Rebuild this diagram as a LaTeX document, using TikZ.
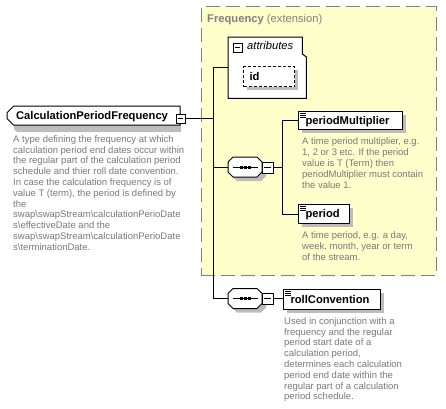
\documentclass[tikz,border=0pt]{standalone}
\usepackage{fontspec}
\setmainfont{Liberation Sans}
\usetikzlibrary{shapes.misc}
\definecolor{frameyellow}{HTML}{FFFFCC}
\definecolor{txtgray}{HTML}{787878}
\definecolor{framegray}{HTML}{808080}
\definecolor{shgray}{HTML}{BDBDBD}
\tikzset{
  conn/.style={draw=black, line width=1pt},
  shadowfill/.style={fill=shgray, draw=none},
  namefont/.style={font=\fontsize{11.2}{13}\selectfont\bfseries},
  elembox/.style={rectangle, draw=black, line width=1pt, fill=white, namefont, align=left,
    inner ysep=0pt, inner xsep=7pt, text height=9.5pt, text depth=2.5pt, anchor=north west},
  descr/.style={font=\fontsize{9.5}{10.8}\selectfont, text=txtgray, align=left, inner sep=0pt, anchor=north west},
  minusbox/.style={rectangle, draw=black, line width=1pt, fill=white, minimum size=#1, inner sep=0pt,
    path picture={\draw[line width=1pt] ([xshift=2pt]path picture bounding box.west) -- ([xshift=-2pt]path picture bounding box.east);}},
  seqnode/.style={rectangle, minimum width=34pt, minimum height=20pt, inner sep=0pt},
  octline/.style={line width=1pt, draw=black, fill=white},
  framebox/.style={rectangle, draw=framegray, line width=1pt, dash pattern=on 14pt off 6pt, fill=frameyellow, inner sep=0pt, anchor=north west},
}
\begin{document}
\begin{tikzpicture}[x=1pt,y=-1pt]
\useasboundingbox (0,0) rectangle (446,408);
% extension frame and attributes group
\node[framebox, minimum width=235pt, minimum height=269pt] (freq) at (200.5,6) {};
\node[anchor=base west, inner sep=0pt, text=framegray, font=\fontsize{11.2}{13}\selectfont] (freqtitle) at (207,22) {\textbf{Frequency} (extension)};
\node[rectangle, minimum width=78pt, minimum height=61pt, inner sep=0pt, anchor=north west] (attr) at (228,37) {};
\draw[line width=1pt, fill=white] (attr.north west) -- ([xshift=-4pt]attr.north east) -- ([xshift=-4pt,yshift=-17pt]attr.north east) -- ([yshift=-20pt]attr.north east) -- (attr.south east) -- (attr.south west) -- cycle;
% shadows (drawn below the boxes)
\fill[shadowfill] (247,70) rectangle (298,90);
\fill[shadowfill] (302,115) rectangle (406,133);
\fill[shadowfill] (302,208) rectangle (353,227);
\fill[shadowfill] (287,293) rectangle (384,313);
\fill[shadowfill] (14,113) -- (181,113) -- (181,132) -- (17,132) -- (14,129) -- cycle;
\foreach \cy in {167,298.5}
  \fill[shadowfill, shift={(249,\cy+4)}] (-12,-10) -- (12,-10) -- (17,-5) -- (17,5) -- (12,10) -- (-12,10) -- (-17,5) -- (-17,-5) -- cycle;
% attributes content
\node[minusbox=9pt] (attrminus) at (237.5,47.5) {};
\node[anchor=base west, inner sep=0pt, font=\fontsize{11.2}{13}\selectfont\itshape] (attrlabel) at (247,49) {attributes};
\node[rectangle, draw=black, line width=1pt, dash pattern=on 3pt off 2pt, fill=white, namefont, align=left,
  text width=39pt, inner xsep=6pt, inner ysep=0pt, minimum height=20pt, text height=9.5pt, text depth=2.5pt, anchor=north west] (idattr) at (243,66) {id};
% main type
\node[chamfered rectangle, chamfered rectangle corners={north west,south west}, chamfered rectangle xsep=3pt,
  draw=black, line width=1pt, fill=white, namefont, align=left, text width=155pt, inner xsep=6pt, inner ysep=0pt,
  minimum height=19pt, text height=9.5pt, text depth=2.5pt, anchor=north west] (main) at (10,109) {CalculationPeriodFrequency};
\node[minusbox=9pt] (mm) at (180.5,118.5) {};
% sequences
\node[seqnode] (seq1) at (245,167) {};
\node[seqnode] (seq2) at (245,298.5) {};
\foreach \s in {seq1,seq2} {
  \draw[octline, shift={(\s.center)}] (-12,-10) -- (12,-10) -- (17,-5) -- (17,5) -- (12,10) -- (-12,10) -- (-17,5) -- (-17,-5) -- cycle;
  \draw[line width=1pt, shift={(\s.center)}] (-12.5,0) -- (12.5,0);
  \foreach \d in {-4,0,4} \fill[shift={(\s.center)}] (\d-1.5,-1.5) rectangle (\d+1.5,1.5);
}
\node[minusbox=11pt] (sm1) at (267.5,167.5) {};
\node[minusbox=11pt] (sm2) at (267.5,298.5) {};
% elements
\node[elembox, text width=90pt, minimum height=18pt] (pm) at (298,111) {periodMultiplier};
\node[elembox, text width=37pt, minimum height=19pt] (per) at (298,204) {period};
\node[elembox, text width=83pt, minimum height=20pt] (rc) at (283,289) {rollConvention};
\foreach \n in {pm,per,rc}
  \foreach \k in {2,4,6}
    \draw[line width=1pt] ([xshift=2pt,yshift=-\k pt]\n.north west) -- ++(6pt,0);
% connectors
\coordinate (tk) at (213,0);
\coordinate (br) at (282,0);
\draw[conn] (attr.west) -- (attr.west -| tk) -- (seq2.west -| tk) -- (seq2.west);
\draw[conn] (mm.east) -- (mm.east -| tk);
\draw[conn] (seq1.west -| tk) -- (seq1.west);
\draw[conn] (sm1.east) -- (sm1.east -| br);
\draw[conn] (pm.west) -- (pm.west -| br) -- (per.west -| br) -- (per.west);
\draw[conn] (sm2.east) -- (sm2.east -| rc.west);
% descriptions
\node[descr] (maindesc) at (13,135.3) {A type defining the frequency at which\\calculation period end dates occur within\\the regular part of the calculation period\\schedule and thier roll date convention.\\In case the calculation frequency is of\\value T (term), the period is defined by\\the\\swap\textbackslash swapStream\textbackslash calculationPerioDate\\s\textbackslash effectiveDate and the\\swap\textbackslash swapStream\textbackslash calculationPerioDate\\s\textbackslash terminationDate.};
\node[descr] (pmdesc) at (302,137.8) {A time period multiplier, e.g.\\1, 2 or 3 etc. If the period\\value is T (Term) then\\periodMultiplier must contain\\the value 1.};
\node[descr] (perdesc) at (302,231.8) {A time period, e.g. a day,\\week, month, year or term\\of the stream.};
\node[descr] (rcdesc) at (284,317.3) {Used in conjunction with a\\frequency and the regular\\period start date of a\\calculation period,\\determines each calculation\\period end date within the\\regular part of a calculation\\period schedule.};
\end{tikzpicture}
\end{document}
